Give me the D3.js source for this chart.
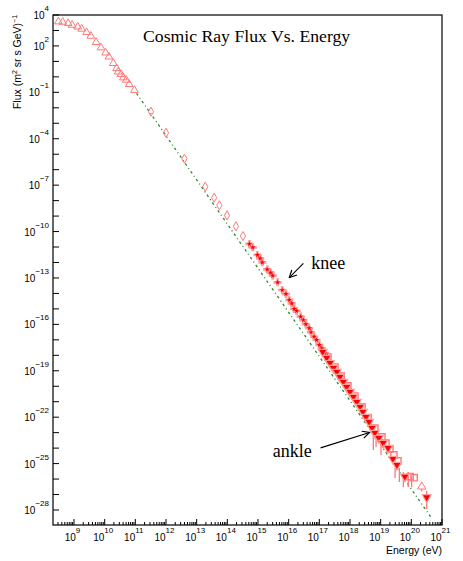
<!DOCTYPE html>
<html>
<head>
<meta charset="utf-8">
<script src="https://cdn.jsdelivr.net/npm/d3@7"></script>
<style>
  html, body { margin: 0; padding: 0; background: #fff; }
  svg { display: block; }
  text { font-family: "Liberation Sans", Arial, sans-serif; fill: #000; }
  .serif { font-family: "Liberation Serif", "Times New Roman", serif; }
</style>
</head>
<body>
<svg id="chart" width="463" height="561"></svg>
<script>
// ---- data: [log10(Energy / eV), log10(Flux / (m^2 sr s GeV)^-1)] ----
const lowEnergyTriangles = [
  [8.49, 3.57], [8.63, 3.55], [8.81, 3.46], [8.94, 3.35], [9.12, 3.24],
  [9.25, 3.10], [9.41, 2.88], [9.55, 2.64], [9.72, 2.24], [9.88, 1.89],
  [10.03, 1.56], [10.14, 1.30], [10.28, 0.88], [10.39, 0.55], [10.44, 0.33],
  [10.53, 0.17], [10.61, -0.05], [10.70, -0.20], [10.80, -0.48], [10.97, -0.86]
];
const diamonds = [
  [11.51, -2.25], [12.00, -3.61], [12.60, -5.29], [13.28, -7.10], [13.57, -7.81],
  [13.74, -8.30], [13.99, -8.95], [14.28, -9.66], [14.51, -10.29]
];
const kneeStars = [
  [14.72, -10.80], [14.83, -11.02], [14.98, -11.51], [15.07, -11.73], [15.14, -11.99],
  [15.30, -12.44], [15.41, -12.66], [15.48, -12.85], [15.64, -13.28], [15.79, -13.78],
  [15.91, -14.03], [16.02, -14.42], [16.10, -14.64], [16.18, -15.00], [16.26, -15.13],
  [16.39, -15.50], [16.48, -15.72], [16.56, -15.99], [16.67, -16.25], [16.73, -16.51],
  [16.83, -16.80], [16.91, -17.01], [17.00, -17.33], [17.08, -17.55], [17.18, -17.87],
  [17.26, -18.04]
];
const ankleFilled = [
  [17.11, -17.78], [17.24, -18.17], [17.35, -18.50], [17.46, -18.82], [17.57, -19.08],
  [17.67, -19.40], [17.78, -19.72], [17.89, -20.05], [18.00, -20.37], [18.11, -20.69],
  [18.22, -21.02], [18.33, -21.34], [18.42, -21.66], [18.52, -21.99], [18.62, -22.31],
  [18.72, -22.70], [18.81, -23.02], [18.94, -23.35], [19.08, -23.67], [19.24, -23.99],
  [19.40, -24.70], [19.53, -25.09], [19.79, -25.84], [20.50, -27.18]
];
const ankleOpen = [
  [17.28, -18.11], [17.51, -18.76], [17.71, -19.34], [17.93, -19.98], [18.16, -20.63],
  [18.39, -21.34], [18.59, -22.05], [18.81, -22.70], [19.04, -23.28], [19.17, -23.67],
  [19.30, -24.05], [19.43, -24.44], [19.56, -24.83], [19.96, -25.84], [20.09, -25.91]
];
const highTriangles = [[20.34, -26.49]];
// error bars: [log10 E, log10 flux low, log10 flux high]
const errorBars = [
  [18.76, -24.12, -22.50], [18.85, -23.93, -22.83], [19.01, -24.44, -23.47],
  [19.47, -25.93, -25.28], [19.61, -26.19, -25.28], [19.74, -26.51, -25.54],
  [19.90, -26.51, -25.54], [20.01, -26.51, -25.80], [20.34, -26.81, -26.23],
  [20.50, -27.95, -26.75]
];
// power-law reference line (end points)
const powerLaw = [[11.04, -1.06], [20.66, -28.53]];
// axis tick labels (exponents)
const xLabelExps = [9, 10, 11, 12, 13, 14, 15, 16, 17, 18, 19, 20, 21];
const yLabelExps = [4, 2, -1, -4, -7, -10, -13, -16, -19, -22, -25, -28];
// annotations: [log10 E, log10 flux]
const kneeText = [16.74, -12.44], kneeArrow = [[16.48, -12.05], [16.02, -12.98]];
const ankleText = [15.48, -24.55], ankleArrow = [[17.04, -23.99], [18.64, -22.99]];

// ---- drawing ----
(function () {
const svg = d3.select("#chart");
const pLeft = 53, pRight = 442, pTop = 15, pBottom = 525;
const x = d3.scaleLog().domain([Math.pow(10, 8.315), 1e21]).range([pLeft, pRight]);
const y = d3.scaleLog().domain([1e4, Math.pow(10, -28.97)]).range([pTop, pBottom]);
const X = e => x(Math.pow(10, e));
const Y = f => y(Math.pow(10, f));

const pink = "#ff7878", red = "#ff0000", green = "#2a8a2a", halo = "#ff9c9c";

svg.append("defs").append("marker")
  .attr("id", "arrow").attr("viewBox", "0 0 10 10").attr("refX", 9).attr("refY", 5)
  .attr("markerWidth", 9).attr("markerHeight", 9).attr("orient", "auto")
  .attr("markerUnits", "userSpaceOnUse")
  .append("path").attr("d", "M1,1 L9,5 L1,9").attr("fill", "none")
  .attr("stroke", "#000").attr("stroke-width", 1.3);

const plot = svg.append("g");

plot.append("path")
  .attr("d", d3.line().x(d => X(d[0])).y(d => Y(d[1]))(powerLaw))
  .attr("fill", "none").attr("stroke", green).attr("stroke-width", 1.3)
  .attr("stroke-dasharray", "2.5,3,1,3");

plot.selectAll(".eb").data(errorBars).join("line")
  .attr("x1", d => X(d[0])).attr("x2", d => X(d[0]))
  .attr("y1", d => Y(d[1])).attr("y2", d => Y(d[2]))
  .attr("stroke", pink).attr("stroke-width", 1.3);

plot.selectAll(".lt").data(lowEnergyTriangles).join("path")
  .attr("transform", d => `translate(${X(d[0])},${Y(d[1])})`)
  .attr("d", d3.symbol(d3.symbolTriangle, 26)())
  .attr("fill", "none").attr("stroke", pink).attr("stroke-width", 1);

plot.selectAll(".dm").data(diamonds).join("path")
  .attr("transform", d => `translate(${X(d[0])},${Y(d[1])})`)
  .attr("d", d3.symbol(d3.symbolDiamond, 24)())
  .attr("fill", "none").attr("stroke", pink).attr("stroke-width", 1);

plot.selectAll(".ao").data(ankleOpen).join("path")
  .attr("transform", d => `translate(${X(d[0])},${Y(d[1])})`)
  .attr("d", d3.symbol(d3.symbolSquare, 40)())
  .attr("fill", "none").attr("stroke", pink).attr("stroke-width", 1.4);

plot.selectAll(".ks").data(kneeStars).join("path")
  .attr("transform", d => `translate(${X(d[0])},${Y(d[1])})`)
  .attr("d", d3.symbol(d3.symbolCross, 36)())
  .attr("fill", halo);
plot.selectAll(".kc").data(kneeStars).join("path")
  .attr("transform", d => `translate(${X(d[0])},${Y(d[1])})`)
  .attr("d", d3.symbol(d3.symbolStar, 9)())
  .attr("fill", red);

plot.selectAll(".af").data(ankleFilled).join("path")
  .attr("transform", d => `translate(${X(d[0])},${Y(d[1])}) rotate(180)`)
  .attr("d", d3.symbol(d3.symbolTriangle, 34)())
  .attr("fill", red).attr("stroke", halo).attr("stroke-width", 1.2);

plot.selectAll(".ht").data(highTriangles).join("path")
  .attr("transform", d => `translate(${X(d[0])},${Y(d[1])})`)
  .attr("d", d3.symbol(d3.symbolTriangle, 30)())
  .attr("fill", "#fff").attr("stroke", pink).attr("stroke-width", 1);

svg.append("rect").attr("x", pLeft).attr("y", pTop)
  .attr("width", pRight - pLeft).attr("height", pBottom - pTop)
  .attr("fill", "none").attr("stroke", "#000").attr("stroke-width", 1.2);

const xTicks = [];
for (let d = 8; d <= 20; d++) for (let m = 1; m <= 9; m++) {
  const v = m * Math.pow(10, d);
  if (v >= x.domain()[0] && v <= x.domain()[1]) xTicks.push({v, major: m === 1});
}
xTicks.push({v: 1e21, major: true});
svg.append("g").selectAll("line").data(xTicks).join("line")
  .attr("x1", d => x(d.v)).attr("x2", d => x(d.v))
  .attr("y1", pBottom).attr("y2", d => pBottom - (d.major ? 6 : 3))
  .attr("stroke", "#000").attr("stroke-width", 1);

const yTicks = d3.range(4, -29, -1);
svg.append("g").selectAll("line").data(yTicks).join("line")
  .attr("x1", pLeft).attr("x2", pLeft + 6)
  .attr("y1", d => Y(d)).attr("y2", d => Y(d))
  .attr("stroke", "#000").attr("stroke-width", 1);

const xl = svg.append("g").selectAll("text").data(xLabelExps).join("text")
  .attr("x", d => X(d) - 1.5).attr("y", 540.5)
  .attr("text-anchor", "middle").attr("font-size", 10);
xl.append("tspan").text("10");
xl.append("tspan").attr("dy", -8).attr("font-size", 8).text(d => d);

const yl = svg.append("g").selectAll("text").data(yLabelExps).join("text")
  .attr("x", 49).attr("y", d => Y(d) + 4)
  .attr("text-anchor", "end").attr("font-size", 10);
yl.append("tspan").text("10");
yl.append("tspan").attr("dy", -8).attr("font-size", 8).text(d => d < 0 ? "\u2212" + (-d) : d);

const yt = svg.append("text")
  .attr("transform", "translate(21,62) rotate(-90)")
  .attr("text-anchor", "middle").attr("font-size", 10.5);
yt.append("tspan").text("Flux (m");
yt.append("tspan").attr("dy", -4).attr("font-size", 7).text("2");
yt.append("tspan").attr("dy", 4).text(" sr s GeV)");
yt.append("tspan").attr("dy", -4).attr("font-size", 7).text("\u22121");

svg.append("text").attr("x", 442).attr("y", 554).attr("text-anchor", "end")
  .attr("font-size", 10.5).text("Energy (eV)");

svg.append("text").attr("class", "serif").attr("x", 143).attr("y", 41.7)
  .attr("font-size", 17.7).text("Cosmic Ray Flux Vs. Energy");

svg.append("text").attr("class", "serif").attr("x", X(kneeText[0])).attr("y", Y(kneeText[1]))
  .attr("font-size", 18).text("knee");
svg.append("line")
  .attr("x1", X(kneeArrow[0][0])).attr("y1", Y(kneeArrow[0][1]))
  .attr("x2", X(kneeArrow[1][0])).attr("y2", Y(kneeArrow[1][1]))
  .attr("stroke", "#000").attr("stroke-width", 1.1).attr("marker-end", "url(#arrow)");
svg.append("text").attr("class", "serif").attr("x", X(ankleText[0])).attr("y", Y(ankleText[1]))
  .attr("font-size", 18).text("ankle");
svg.append("line")
  .attr("x1", X(ankleArrow[0][0])).attr("y1", Y(ankleArrow[0][1]))
  .attr("x2", X(ankleArrow[1][0])).attr("y2", Y(ankleArrow[1][1]))
  .attr("stroke", "#000").attr("stroke-width", 1.3).attr("marker-end", "url(#arrow)");
})();
</script>
</body>
</html>
